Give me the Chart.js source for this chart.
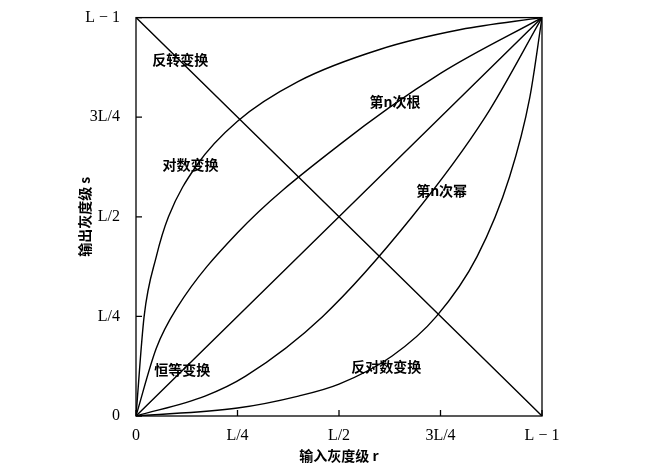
<!DOCTYPE html>
<html><head><meta charset="utf-8">
<script src="https://cdn.jsdelivr.net/npm/chart.js@4/dist/chart.umd.min.js"></script>
<style>body{margin:0;background:#fff}#wrap{width:659px;height:464px}</style>
</head><body><div id="wrap"><canvas id="c"></canvas></div>
<script>
// tick positions (fraction of L-1) and labels
const tickVals = [0, 0.25, 0.5, 0.75, 1];
const tickLabels = ["0", "L/4", "L/2", "3L/4", "L \u2212 1"];

// curves
const identityPts = [[0,0],[1,1]];
const negativePts = [[0,1],[1,0]];
const logPts = [[0,0],[0.02,0.25],[0.05,0.4],[0.08,0.5],[0.15,0.63],[0.25,0.74],[0.4,0.84],[0.6,0.92],[0.8,0.97],[1,1]];
const rootPts = [[0,0],[0.05,0.17],[0.1,0.27],[0.25,0.46],[0.5,0.68],[0.75,0.86],[1,1]];
const powerPts = [[0,0],[0.17,0.05],[0.27,0.1],[0.46,0.25],[0.68,0.5],[0.86,0.75],[1,1]];
const invLogPts = [[0,0],[0.25,0.02],[0.4,0.05],[0.5,0.08],[0.63,0.15],[0.74,0.25],[0.84,0.4],[0.92,0.6],[0.97,0.8],[1,1]];

// curve labels [text, x, y] in data units
const curveLabels = [
  ["反转变换", 0.04, 0.895],
  ["对数变换", 0.065, 0.63],
  ["第n次根", 0.575, 0.79],
  ["第n次幂", 0.69, 0.565],
  ["恒等变换", 0.045, 0.115],
  ["反对数变换", 0.53, 0.125]
];

const toXY = a => a.map(p => ({x: p[0], y: p[1]}));
const line = pts => ({data: toXY(pts), showLine: true, borderColor: "#000", borderWidth: 1.4,
  pointRadius: 0, cubicInterpolationMode: "monotone", fill: false});

const frame = {
  id: "frame",
  afterDatasetsDraw(chart) {
    const {ctx, chartArea: a, scales} = chart;
    ctx.save();
    ctx.strokeStyle = "#000"; ctx.lineWidth = 1.3;
    ctx.strokeRect(a.left, a.top, a.right - a.left, a.bottom - a.top);
    tickVals.forEach(v => {
      const x = scales.x.getPixelForValue(v), y = scales.y.getPixelForValue(v);
      ctx.beginPath();
      ctx.moveTo(x, a.bottom); ctx.lineTo(x, a.bottom - 6);
      ctx.moveTo(a.left, y); ctx.lineTo(a.left + 6, y);
      ctx.stroke();
    });
    ctx.fillStyle = "#000";
    ctx.font = "bold 14px 'Noto Sans CJK SC'";
    ctx.textBaseline = "middle";
    curveLabels.forEach(l => {
      const x = scales.x.getPixelForValue(l[1]), y = scales.y.getPixelForValue(l[2]);
      ctx.fillText(l[0], x, y);
    });
    ctx.restore();
  }
};

new Chart(document.getElementById("c"), {
  type: "scatter",
  data: { datasets: [identityPts, negativePts, logPts, rootPts, powerPts, invLogPts].map(line) },
  options: {
    responsive: true, maintainAspectRatio: false, animation: false,
    layout: { padding: { top: 14, right: 117, left: 76 } },
    plugins: { legend: { display: false }, tooltip: { enabled: false } },
    scales: {
      x: {
        type: "linear", min: 0, max: 1,
        afterBuildTicks: s => { s.ticks = tickVals.map(v => ({value: v})); },
        afterFit: s => { s.height = 48; },
        grid: { display: false }, border: { display: false },
        ticks: { color: "#000", font: { family: "Liberation Serif", size: 16 }, padding: 2,
          callback: (v) => tickLabels[tickVals.indexOf(v)] },
        title: { display: true, text: "输入灰度级 r", color: "#000", padding: 0,
          font: { family: "Noto Sans CJK SC", size: 14, weight: "bold" } }
      },
      y: {
        type: "linear", min: 0, max: 1,
        afterBuildTicks: s => { s.ticks = tickVals.map(v => ({value: v})); },
        afterFit: s => { s.width = 60; },
        grid: { display: false }, border: { display: false },
        ticks: { color: "#000", font: { family: "Liberation Serif", size: 16 }, padding: 8,
          callback: (v) => tickLabels[tickVals.indexOf(v)] },
        title: { display: true, text: "输出灰度级 s", color: "#000", padding: 0,
          font: { family: "Noto Sans CJK SC", size: 14, weight: "bold" } }
      }
    }
  },
  plugins: [frame]
});
</script></body></html>
